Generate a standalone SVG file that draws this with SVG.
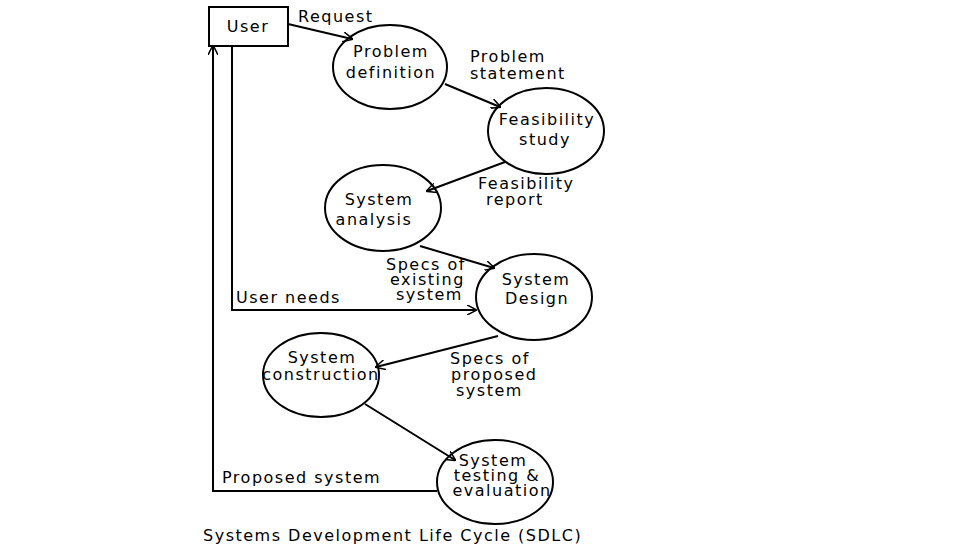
<svg xmlns="http://www.w3.org/2000/svg" width="960" height="553" viewBox="0 0 960 553">
<style>
text{font-family:"DejaVu Sans","Liberation Sans",sans-serif;font-size:16px;letter-spacing:1.5px;fill:#000}
.n{fill:#fff;stroke:#000;stroke-width:2}
.c{fill:none;stroke:#000;stroke-width:2}
.m{text-anchor:middle}
</style>
<defs><marker id="a" viewBox="0 0 10 10" refX="9" refY="5" markerWidth="10" markerHeight="10" orient="auto" markerUnits="userSpaceOnUse"><path d="M0,0L10,5L0,10" fill="none" stroke="#000" stroke-width="1.5"/></marker></defs>
<rect width="960" height="553" fill="#fff"/>
<g id="user"><rect class="n" x="209" y="7" width="79" height="39"/><text class="m" x="248" y="32">User</text></g>
<g id="problem"><ellipse class="n" cx="390" cy="67" rx="57" ry="42"/><text class="m" x="391" y="57">Problem</text><text class="m" x="391" y="78">definition</text></g>
<g id="feasibility"><ellipse class="n" cx="546" cy="131" rx="58" ry="43"/><text class="m" x="547" y="125">Feasibility</text><text class="m" x="545" y="145">study</text></g>
<g id="analysis"><ellipse class="n" cx="383" cy="208" rx="58" ry="43"/><text class="m" x="379" y="205">System</text><text class="m" x="374" y="225">analysis</text></g>
<g id="design"><ellipse class="n" cx="534" cy="297" rx="58" ry="43"/><text class="m" x="536" y="285">System</text><text class="m" x="537" y="304">Design</text></g>
<g id="construction"><ellipse class="n" cx="321" cy="375" rx="58" ry="42"/><text class="m" x="322" y="363">System</text><text class="m" x="321" y="380">construction</text></g>
<g id="testing"><ellipse class="n" cx="495" cy="482" rx="58" ry="42"/><text class="m" x="493" y="466">System</text><text class="m" x="497" y="481">testing &amp;</text><text class="m" x="502" y="496">evaluation</text></g>
<g id="connectors">
<path class="c" d="M288,24L352,39" marker-end="url(#a)"/>
<path class="c" d="M445,84L500,107" marker-end="url(#a)"/>
<path class="c" d="M505,162L427,191" marker-end="url(#a)"/>
<path class="c" d="M420,246L494,268" marker-end="url(#a)"/>
<path class="c" d="M232,46V310H476" marker-end="url(#a)"/>
<path class="c" d="M498,336L376,367" marker-end="url(#a)"/>
<path class="c" d="M365,404L455,460" marker-end="url(#a)"/>
<path class="c" d="M437,491H213V46" marker-end="url(#a)"/>
<text x="298" y="22">Request</text>
<text x="470" y="62">Problem</text><text x="470" y="79">statement</text>
<text x="478" y="189">Feasibility</text><text x="486" y="205">report</text>
<text x="386" y="270">Specs of</text><text x="390" y="285">existing</text><text x="396" y="300">system</text>
<text x="236" y="303">User needs</text>
<text x="450" y="364">Specs of</text><text x="451" y="380">proposed</text><text x="456" y="396">system</text>
<text x="222" y="483">Proposed system</text>
</g>
<text x="203" y="541">Systems Development Life Cycle (SDLC)</text>
</svg>
